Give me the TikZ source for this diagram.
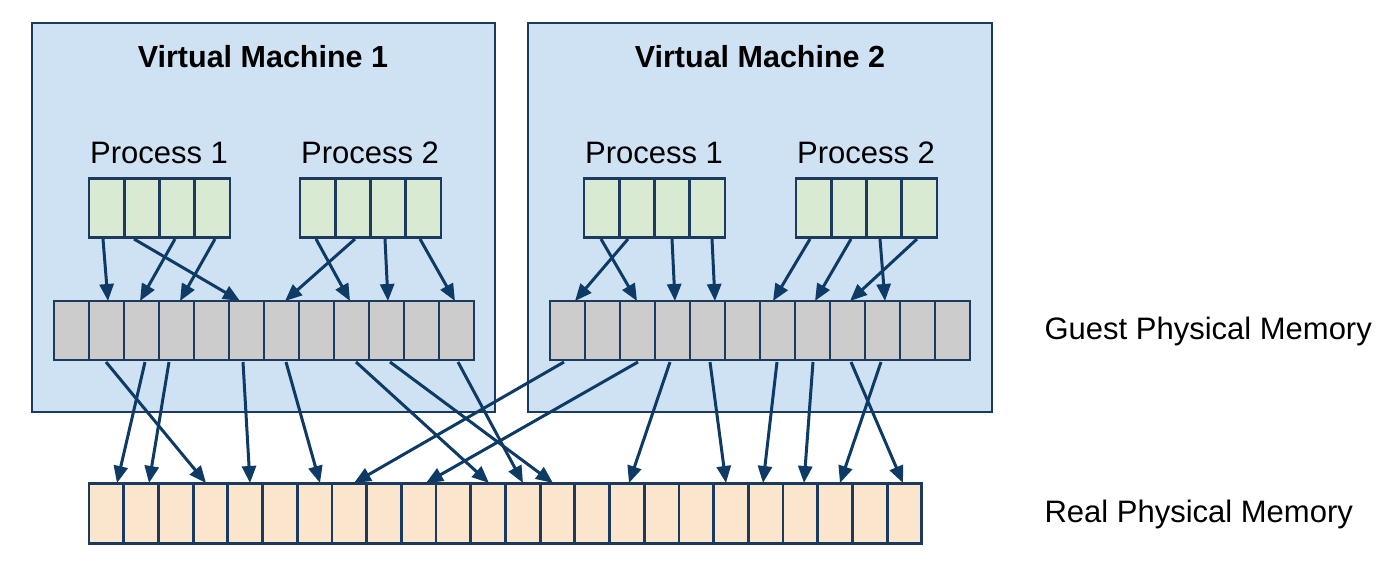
\documentclass[tikz,border=0pt]{standalone}
\usepackage{fontspec}
\setmainfont{Liberation Sans}
\usetikzlibrary{arrows.meta}
\definecolor{vmfill}{HTML}{CFE2F3}
\definecolor{navy}{HTML}{1C3A5E}
\definecolor{arrc}{HTML}{0D3B66}
\definecolor{pfill}{HTML}{D9EAD3}
\definecolor{gfill}{HTML}{CCCCCC}
\definecolor{rfill}{HTML}{FCE5CD}
\tikzset{
 vm/.style={draw=navy,fill=vmfill,line width=2.5pt},
 cell/.style={draw=navy,line width=2.8pt,minimum height=59pt,inner sep=0pt,outer sep=0pt},
 pc/.style={cell,fill=pfill,minimum width=35.25pt},
 gc/.style={cell,fill=gfill,minimum width=35pt},
 rc/.style={cell,fill=rfill,minimum width=34.7pt,minimum height=60pt},
 arr/.style={draw=arrc,line width=3pt,-{Triangle[length=17pt,width=14pt]}},
 lbl/.style={font=\fontsize{31}{33}\selectfont},
 ttl/.style={font=\bfseries\fontsize{30.5}{32}\selectfont}
}
\begin{document}
\begin{tikzpicture}[x=1pt,y=-1pt]
\useasboundingbox (0,0) rectangle (1396,571);
\fill[white] (0,0) rectangle (1396,571);
\draw[vm] (32,23) rectangle (495,412);
\draw[vm] (528,23) rectangle (992,412);
\node[ttl] (t1) at (263,57) {Virtual Machine 1};
\node[ttl] (t2) at (760,57) {Virtual Machine 2};
\node[lbl] (l1) at (159,153) {Process 1};
\node[lbl] (l2) at (370,153) {Process 2};
\node[lbl] (l3) at (654,153) {Process 1};
\node[lbl] (l4) at (866,153) {Process 2};
\foreach \n/\x in {a/89,b/300,c/584,d/796}
  \foreach \i in {0,...,3}
    \node[pc] (p\n\i) at ({\x+35.25*(\i+0.5)},208) {};
\foreach \n/\x in {a/54,b/550}
  \foreach \i in {0,...,11}
    \node[gc] (g\n\i) at ({\x+35*(\i+0.5)},330.5) {};
\foreach \i in {0,...,23}
  \node[rc] (r\i) at ({89+34.7*(\i+0.5)},513.5) {};
\node[lbl,anchor=west] (gl) at (1041,331) {Guest Physical Memory};
\node[lbl,anchor=west] (rl) at (1041,514) {Real Physical Memory};
% process -> guest
\foreach \a/\b in {103/108,134/240,175/140,215/180,316/350,355/285,385/388,420/455,
  601/637,628/575,672/675,712/715,810/773,851/815,880/885,917/850}
  \draw[arr] (\a,239) -- (\b,301);
% guest -> real
\foreach \a/\b in {106/206,145/117,169/149,243/250,286/320,356/489,390/553,458/523,
  564/354,638/426,670/629,710/726,777/763,813/804,851/903,881/840}
  \draw[arr] (\a,362) -- (\b,483);
\end{tikzpicture}
\end{document}
